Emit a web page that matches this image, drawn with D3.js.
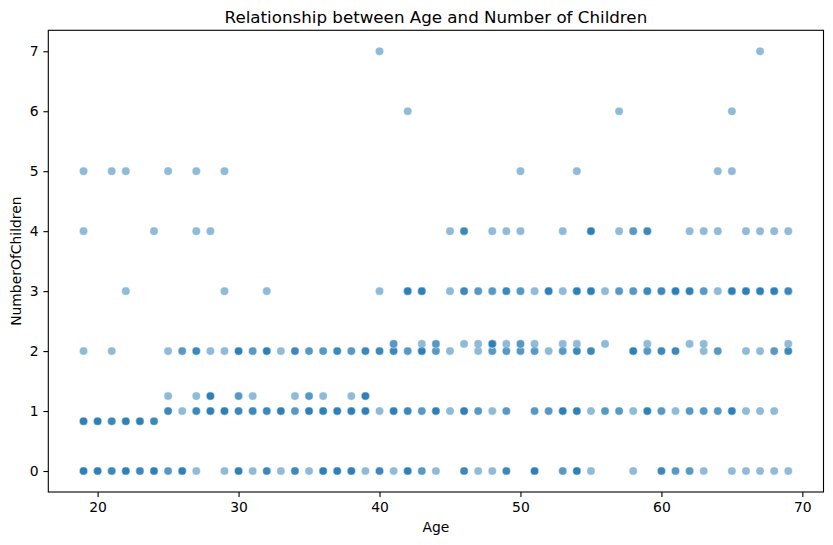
<!DOCTYPE html>
<html>
<head>
<meta charset="utf-8">
<script src="https://cdn.jsdelivr.net/npm/d3@7"></script>
<style>
  body { margin: 0; background: #fff; }
  text { font-family: "DejaVu Sans", sans-serif; fill: #000; }
</style>
</head>
<body>
<svg></svg>
<script>
const margin = { t: 30.3, r: 9.5, b: 53, l: 48.3 };
const size = { w: 833, h: 545 };
const innerW = size.w - margin.l - margin.r;
const innerH = size.h - margin.t - margin.b;

// each entry: [age, how many people share that exact point]
const kids0 = [[19,4],[20,4],[21,3],[22,4],[23,3],[24,4],[25,2],[26,4],[27,1],[29,1],[30,4],[31,1],[32,3],[33,1],[34,3],[35,1],[36,4],[37,4],[38,4],[39,1],[40,3],[41,1],[42,4],[43,2],[44,1],[46,3],[47,1],[48,1],[49,3],[51,4],[53,2],[54,4],[55,1],[58,1],[60,3],[61,2],[62,2],[63,1],[65,1],[66,1],[67,1],[68,1],[69,1]];
const kids083 = [[19,4],[20,4],[21,3],[22,4],[23,4],[24,3]];
const kids1 = [[25,3],[26,1],[27,3],[28,4],[29,4],[30,3],[31,3],[32,3],[33,4],[34,2],[35,4],[36,4],[37,4],[38,4],[39,4],[40,1],[41,4],[42,3],[43,2],[44,4],[45,1],[46,4],[47,2],[48,1],[49,2],[51,2],[52,2],[53,4],[54,4],[55,1],[56,2],[57,2],[58,1],[59,4],[60,2],[61,1],[62,2],[63,2],[64,2],[65,4],[66,1],[67,1],[68,1]];
const kids125 = [[25,1],[27,1],[28,4],[30,2],[31,1],[34,1],[35,2],[36,1],[38,1],[39,4]];
const kids2 = [[19,1],[21,1],[25,1],[26,2],[27,3],[28,1],[29,1],[30,4],[31,2],[32,4],[33,1],[34,3],[35,2],[36,2],[37,3],[38,2],[39,3],[40,3],[41,3],[42,2],[43,4],[44,2],[45,1],[47,1],[48,2],[49,2],[50,2],[51,2],[52,1],[53,2],[54,3],[55,3],[58,4],[59,2],[60,3],[61,3],[63,1],[64,2],[66,1],[67,1],[68,2],[69,3]];
const kids212 = [[41,2],[43,1],[44,2],[46,1],[47,1],[48,4],[49,1],[50,2],[51,1],[53,1],[54,1],[56,1],[59,1],[62,1],[63,1],[69,1]];
const kids3 = [[22,1],[29,1],[32,1],[40,1],[42,4],[43,4],[45,1],[46,3],[47,2],[48,2],[49,3],[50,2],[51,1],[52,4],[53,1],[54,4],[55,4],[56,1],[57,2],[58,2],[59,3],[60,3],[61,4],[62,4],[63,2],[64,1],[65,4],[66,4],[67,4],[68,4],[69,3]];
const kids4 = [[19,1],[24,1],[27,1],[28,1],[45,1],[46,3],[48,1],[49,1],[50,1],[53,1],[55,4],[57,1],[58,2],[59,3],[62,1],[63,1],[64,1],[66,1],[67,1],[68,1],[69,1]];
const kids5 = [[19,1],[21,1],[22,1],[25,1],[27,1],[29,1],[50,1],[54,1],[64,1],[65,1]];
const kids6 = [[42,1],[57,1],[65,1]];
const kids7 = [[40,1],[67,1]];

const levels = [
  [0, kids0], [0.83, kids083], [1, kids1], [1.25, kids125], [2, kids2],
  [2.12, kids212], [3, kids3], [4, kids4], [5, kids5], [6, kids6], [7, kids7]
];

const xTicks = [20, 30, 40, 50, 60, 70];
const yTicks = [0, 1, 2, 3, 4, 5, 6, 7];

// one record per person, so overlaps stack their opacity like the original
const people = [];
levels.forEach(([kids, list]) => {
  list.forEach(([age, n]) => {
    for (let i = 0; i < n; i++) people.push({ age: age, kids: kids });
  });
});

const svg = d3.select("svg").attr("width", size.w).attr("height", size.h);

const x = d3.scaleLinear().domain([16.5, 71.5]).range([0, innerW]);
const y = d3.scaleLinear().domain([-0.35, 7.35]).range([innerH, 0]);

const g = svg.append("g").attr("transform", `translate(${margin.l},${margin.t})`);

g.append("g")
  .selectAll("circle")
  .data(people)
  .join("circle")
  .attr("cx", (d) => x(d.age))
  .attr("cy", (d) => y(d.kids))
  .attr("r", 4.1)
  .attr("fill", "#1f77b4")
  .attr("fill-opacity", 0.5)
  .attr("stroke", "#fff")
  .attr("stroke-opacity", 0.5)
  .attr("stroke-width", 0.7);

const xAxis = g.append("g")
  .attr("transform", `translate(0,${innerH})`)
  .call(d3.axisBottom(x).tickValues(xTicks).tickSize(4.9).tickPadding(4.9));
const yAxis = g.append("g")
  .call(d3.axisLeft(y).tickValues(yTicks).tickSize(4.9).tickPadding(4.9));

[xAxis, yAxis].forEach((a) => {
  a.select(".domain").remove();
  a.selectAll(".tick line").attr("stroke", "#000").attr("stroke-width", 1.1);
  a.selectAll(".tick text").style("font-size", "13.9px").attr("fill", "#000");
});

// frame around the plot
g.append("rect")
  .attr("width", innerW)
  .attr("height", innerH)
  .attr("fill", "none")
  .attr("stroke", "#000")
  .attr("stroke-width", 1.1);

svg.append("text")
  .attr("x", margin.l + innerW / 2)
  .attr("y", 22.5)
  .attr("text-anchor", "middle")
  .style("font-size", "16.7px")
  .text("Relationship between Age and Number of Children");

svg.append("text")
  .attr("x", margin.l + innerW / 2)
  .attr("y", 532)
  .attr("text-anchor", "middle")
  .style("font-size", "13.9px")
  .text("Age");

svg.append("text")
  .attr("transform", `translate(21,${margin.t + innerH / 2}) rotate(-90)`)
  .attr("text-anchor", "middle")
  .style("font-size", "13.9px")
  .text("NumberOfChildren");
</script>
</body>
</html>
